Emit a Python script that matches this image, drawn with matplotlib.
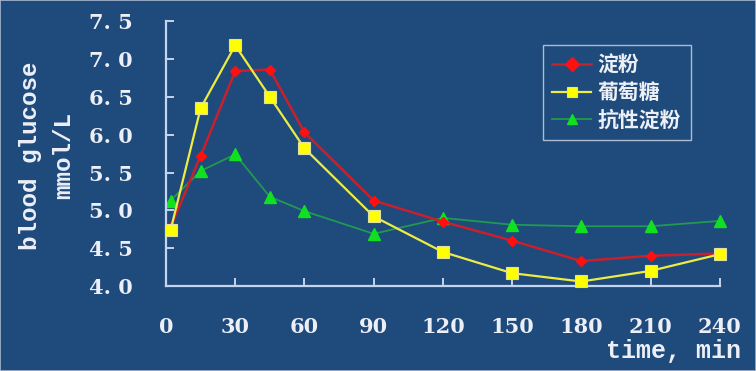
import matplotlib
matplotlib.use("Agg")
import matplotlib.pyplot as plt
from matplotlib.patches import Rectangle

# data
time_min = [2, 15, 30, 45, 60, 90, 120, 150, 180, 210, 240]
starch = [4.78, 5.72, 6.84, 6.86, 6.03, 5.13, 4.85, 4.60, 4.33, 4.40, 4.43]
glucose = [4.74, 6.35, 7.18, 6.50, 5.82, 4.92, 4.45, 4.17, 4.06, 4.20, 4.42]
resistant = [5.13, 5.52, 5.74, 5.18, 4.99, 4.69, 4.90, 4.81, 4.79, 4.79, 4.86]
series_names = ["淀粉", "葡萄糖", "抗性淀粉"]
x_ticks = [0, 30, 60, 90, 120, 150, 180, 210, 240]
y_ticks = [4.0, 4.5, 5.0, 5.5, 6.0, 6.5, 7.0, 7.5]

bg = "#1f4a7c"
fg = "#eceff6"
spine = "#c4d4ee"
num_font = ["Liberation Mono", "DejaVu Sans Mono"]
cjk_font = ["Noto Sans CJK SC", "DejaVu Sans"]

fig = plt.figure(figsize=(7.56, 3.71), dpi=100, facecolor=bg)
ax = fig.add_axes([0.2196, 0.229, 0.7324, 0.714])
ax.set_facecolor(bg)

ax.plot(time_min, starch, color="#c8202c", lw=1.8, marker="D", ms=5,
        mfc="#ff1010", mec="#ff1010", clip_on=False, label=series_names[0], zorder=3)
ax.plot(time_min, glucose, color="#ecec44", lw=1.6, marker="s", ms=9,
        mfc="#ffff00", mec="#e0e0a0", mew=0.8, clip_on=False, label=series_names[1], zorder=4)
ax.plot(time_min, resistant, color="#1f9a50", lw=1.3, marker="^", ms=9,
        mfc="#10e020", mec="#10e020", clip_on=False, label=series_names[2], zorder=2)

ax.set_xlim(0, 240)
ax.set_ylim(4.0, 7.5)
ax.set_xticks(x_ticks)
ax.set_yticks(y_ticks)
ax.set_yticklabels([f"{v:.1f}".replace(".", ". ") for v in y_ticks])
for s in ["top", "right"]:
    ax.spines[s].set_visible(False)
for s in ["left", "bottom"]:
    ax.spines[s].set_color(spine)
    ax.spines[s].set_linewidth(1.6)
ax.tick_params(axis="both", direction="in", color=spine, width=1.4, length=6,
               labelcolor=fg, labelsize=15)
ax.tick_params(axis="x", pad=22)
ax.tick_params(axis="y", pad=24)
for lab in ax.get_xticklabels() + ax.get_yticklabels():
    lab.set_family(["DejaVu Serif"])
    lab.set_weight("bold")

fig.text(0.062, 0.58, "blood glucose\nmmol/L", rotation=90, ha="center", va="center",
         color=fg, fontsize=17.5, family=num_font, weight="bold", linespacing=1.55,
         multialignment="center")
fig.text(0.98, 0.055, "time, min", ha="right", va="center", color=fg,
         fontsize=18, family=num_font, weight="bold")

leg = ax.legend(loc="upper left", bbox_to_anchor=(0.68, 0.909), borderaxespad=0,
                frameon=True, fancybox=False,
                prop={"family": cjk_font, "size": 15, "weight": "bold"},
                labelcolor=fg, handlelength=1.9, borderpad=0.45, labelspacing=0.3,
                handletextpad=0.3)
leg.get_frame().set_facecolor(bg)
leg.get_frame().set_edgecolor("#d0d8e8")
leg.get_frame().set_linewidth(1.0)
for h in leg.legend_handles:
    h.set_markersize(7)

fig.patches.append(Rectangle((0, 0), 1, 1, transform=fig.transFigure, fill=False,
                             edgecolor="#a8b8d0", lw=1.2))

fig.savefig("out.png", dpi=100, facecolor=bg)
